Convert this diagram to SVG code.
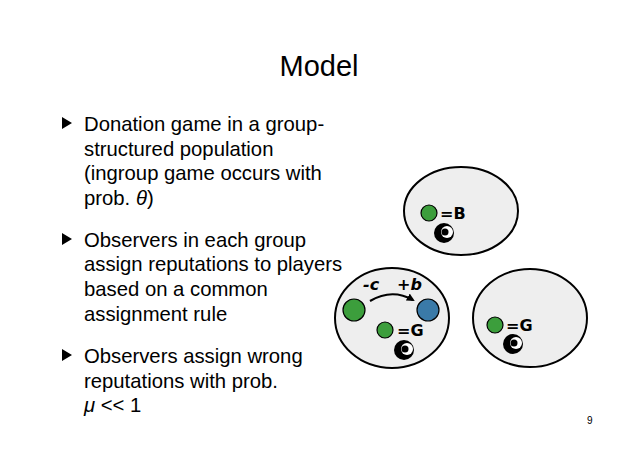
<svg xmlns="http://www.w3.org/2000/svg" width="638" height="451" viewBox="0 0 638 451">
<defs>
<style>
.t{font-family:"Liberation Sans",Arial,sans-serif;font-size:20.3px;fill:#000}
.g{fill:#3c9e3c;stroke:#000;stroke-width:1.2}
.grp{fill:#eeeeee;stroke:#000;stroke-width:2}
.lb{font-family:"DejaVu Sans",sans-serif;font-weight:bold;font-size:16px;fill:#000}
</style>
<g id="eye"><circle r="10" fill="#000"/><ellipse cx="3" cy="-1" rx="6" ry="6" fill="#fff"/><circle cx="1" cy="-1" r="3.5" fill="#000"/></g>
<marker id="ah" markerWidth="8" markerHeight="8" refX="6" refY="4" orient="auto" markerUnits="userSpaceOnUse"><path d="M0,0 L8,4 L0,8 z" fill="#000"/></marker>
</defs>
<rect width="638" height="451" fill="#fff"/>
<text x="319" y="76" text-anchor="middle" style="font-family:'Liberation Sans',sans-serif;font-size:29px">Model</text>
<g id="bullets">
<path d="M62,117 L72,123 L62,129 z M62,233 L72,239 L62,245 z M62,349 L72,355 L62,361 z" fill="#000"/>
<text class="t" x="84" y="131">Donation game in a group-</text>
<text class="t" x="84" y="156">structured population</text>
<text class="t" x="84" y="180">(ingroup game occurs with</text>
<text class="t" x="84" y="205">prob. <tspan font-style="italic">θ</tspan>)</text>
<text class="t" x="84" y="247">Observers in each group</text>
<text class="t" x="84" y="271">assign reputations to players</text>
<text class="t" x="84" y="296">based on a common</text>
<text class="t" x="84" y="321">assignment rule</text>
<text class="t" x="84" y="363">Observers assign wrong</text>
<text class="t" x="84" y="388">reputations with prob.</text>
<text class="t" x="84" y="412"><tspan font-style="italic">μ</tspan> &lt;&lt; 1</text>
</g>
<g id="group-top">
<ellipse class="grp" cx="461" cy="211" rx="57" ry="44"/>
<circle class="g" cx="429" cy="213" r="8"/>
<text class="lb" x="440" y="219">=B</text>
<use href="#eye" x="444" y="233"/>
</g>
<g id="group-left">
<ellipse class="grp" cx="392" cy="318" rx="57" ry="50"/>
<circle class="g" cx="354" cy="310" r="11"/>
<circle cx="428" cy="310" r="11" fill="#3a7aa8" stroke="#000" stroke-width="1.2"/>
<circle class="g" cx="385" cy="330" r="8"/>
<text class="lb" x="397" y="336">=G</text>
<use href="#eye" x="404" y="350"/>
<text class="lb" x="363" y="290" font-style="italic">-c</text>
<text class="lb" x="397" y="290" font-style="italic">+b</text>
</g>
<g id="group-right">
<ellipse class="grp" cx="530" cy="318" rx="57" ry="49"/>
<circle class="g" cx="495" cy="325" r="8"/>
<text class="lb" x="506" y="331">=G</text>
<use href="#eye" x="513" y="344"/>
</g>
<g id="connectors">
<path d="M370,301 Q392,288 413,300" fill="none" stroke="#000" stroke-width="2.2" marker-end="url(#ah)"/>
</g>
<text x="587" y="424" style="font-family:'Liberation Sans',sans-serif;font-size:10px">9</text>
</svg>
